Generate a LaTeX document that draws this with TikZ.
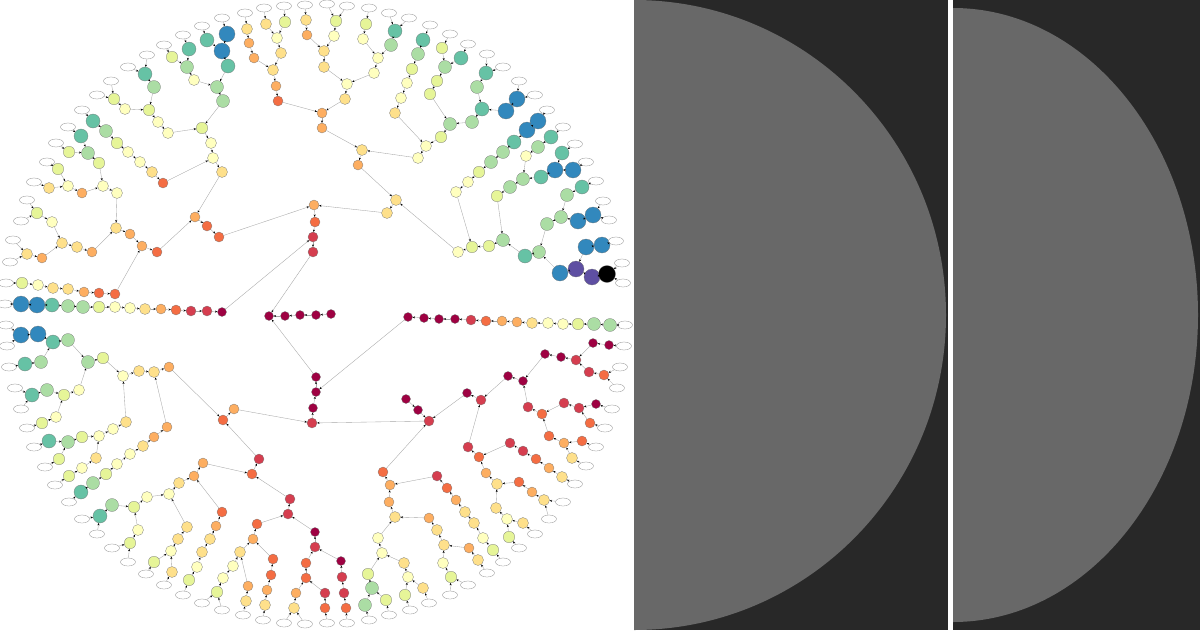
\documentclass[tikz,border=0pt]{standalone}
\usetikzlibrary{arrows.meta,shapes.geometric}
\definecolor{spec1}{HTML}{9E0142}
\definecolor{spec2}{HTML}{D53E4F}
\definecolor{spec3}{HTML}{F46D43}
\definecolor{spec4}{HTML}{FDAE61}
\definecolor{spec5}{HTML}{FEE08B}
\definecolor{spec6}{HTML}{FFFFBF}
\definecolor{spec7}{HTML}{E6F598}
\definecolor{spec8}{HTML}{ABDDA4}
\definecolor{spec9}{HTML}{66C2A5}
\definecolor{spec10}{HTML}{3288BD}
\definecolor{spec11}{HTML}{5E4FA2}
\definecolor{panel}{HTML}{282828}
\definecolor{disc}{HTML}{686868}
\tikzset{
  dot/.style={circle,draw=black!55,line width=0.25pt,inner sep=0pt},
  s1/.style={fill=spec1,minimum size=9pt},
  s2/.style={fill=spec2,minimum size=10pt},
  s3/.style={fill=spec3,minimum size=10pt},
  s4/.style={fill=spec4,minimum size=10pt},
  s5/.style={fill=spec5,minimum size=11pt},
  s6/.style={fill=spec6,minimum size=11pt},
  s7/.style={fill=spec7,minimum size=11.5pt},
  s8/.style={fill=spec8,minimum size=13pt},
  s9/.style={fill=spec9,minimum size=14pt},
  s10/.style={fill=spec10,minimum size=16pt},
  s11/.style={fill=spec11,minimum size=16pt},
  sk/.style={fill=black,minimum size=17pt},
  leafnode/.style={ellipse,draw=black!45,line width=0.3pt,fill=white,minimum width=15pt,minimum height=8pt,inner sep=0pt},
  conn/.style={draw=black!35,line width=0.35pt,-{Stealth[length=2.4pt,width=2pt,color=black]}}
}
\begin{document}
\begin{tikzpicture}[x=1pt,y=-1pt]
\useasboundingbox (0,0) rectangle (1200,630);
\fill[white] (0,0) rectangle (1200,630);
\fill[panel] (634,0) rectangle (948,630);
\fill[panel] (953,0) rectangle (1200,630);
\begin{scope}
\clip (634,0) rectangle (948,630);
\fill[disc] (634,315) ellipse [x radius=312pt,y radius=315pt];
\end{scope}
\begin{scope}
\clip (953,0) rectangle (1200,630);
\fill[disc] (953,315) ellipse [x radius=245pt,y radius=307pt];
\end{scope}

\node[dot,s1] (m1) at (269,316) {};
\foreach \n/\x/\y/\c/\p in {
  m2/285/316/s1/m1, m3/300/315/s1/m2, m4/316/315/s1/m3, m5/331/314/s1/m4,
  m6/313/252/s2/m1, m7/313/237/s2/m6, m8/315/222/s3/m7, m9/314/205/s4/m8,
  m10/316/377/s1/m1, m11/316/392/s1/m10, m12/313/408/s1/m11, m13/312/423/s2/m12,
  p1/222/312/s1/m7, p2/207/311/s2/p1, p3/191/311/s2/p2, p4/176/310/s3/p3,
  p5/161/309/s4/p4, p6/145/309/s5/p5, p7/130/308/s6/p6, p8/115/307/s6/p7,
  p9/99/307/s7/p8, p10/83/307/s8/p9, p11/68/306/s8/p10, p12/52/305/s9/p11,
  p13/37/305/s10/p12, p14/21/304/s10/p13,
  a1/219/237/s3/m9, a2/207/226/s3/a1, a3/195/217/s4/a2, a4/222/172/s5/a3,
  a5/213/158/s6/a4, a6/211/143/s6/a5, a7/202/128/s7/a6, a8/223/101/s8/a7,
  a9/217/87/s8/a8, a10/228/66/s9/a9, a11/222/51/s10/a10, a12/227/34/s10/a11,
  a13/194/80/s6/a9, a14/187/67/s8/a13, a15/189/49/s9/a14, a16/172/57/s7/a14,
  a17/207/40/s9/a11,
  a18/168/133/s6/a7, a19/158/122/s6/a18, a20/149/110/s7/a19, a21/154/87/s8/a20,
  a22/145/74/s9/a21, a23/125/109/s6/a20, a24/114/99/s7/a23,
  a25/157/252/s3/a3, a26/142/246/s4/a25, a27/130/234/s4/a26, a28/116/228/s5/a27,
  a29/117/193/s6/a28, a30/103/186/s6/a29, a31/99/163/s7/a30, a32/88/153/s8/a31,
  a33/81/136/s9/a32, a34/69/152/s7/a32, a35/82/193/s4/a30, a36/68/186/s6/a35,
  a37/58/169/s7/a36, a52/49/188/s5/a36,
  a38/163/183/s3/a5, a39/152/172/s5/a38, a40/140/162/s6/a39, a41/128/152/s6/a40,
  a42/117/143/s7/a41, a43/106/131/s8/a42, a44/93/121/s9/a43,
  a45/92/252/s4/a28, a46/77/247/s5/a45, a47/62/243/s5/a46, a48/52/222/s6/a47,
  a49/37/213/s7/a48, a50/42/258/s4/a47, a51/27/254/s5/a50,
  b1/115/294/s3/a26, b2/99/293/s3/b1, b3/84/292/s4/b2, b4/68/289/s5/b3,
  b5/53/288/s5/b4, b6/38/285/s6/b5, b7/22/283/s7/b6,
  u1/387/213/s5/m9, u2/396/200/s5/u1, u3/358/165/s4/u2, u4/362/150/s5/u3,
  t1/322/128/s4/u4, t2/322/113/s4/t1, t3/278/101/s3/t2, t4/276/86/s4/t3,
  t5/273/70/s5/t4, t6/254/58/s4/t5, t7/249/43/s4/t6, t8/247/29/s5/t7,
  t9/281/53/s5/t5, t10/277/38/s6/t9, t11/285/22/s7/t10, t12/266/24/s5/t10,
  t13/345/99/s5/t2, t14/347/84/s6/t13, t15/324/67/s5/t14, t16/324/51/s5/t15,
  t17/334/36/s6/t16, t18/336/21/s7/t17, t19/307/35/s4/t16, t20/306/20/s5/t19,
  t21/374/73/s6/t14, t22/378/58/s6/t21, t23/363/39/s6/t22, t24/366/24/s7/t23,
  t25/391/45/s8/t22, t26/395/31/s9/t25,
  t27/418/158/s6/u4, t28/426/146/s6/t27, t29/441/137/s7/t28,
  t30/395/113/s5/t28, t31/401/98/s6/t30, t32/407/83/s6/t31, t33/412/69/s7/t32,
  t34/418/54/s8/t33, t35/423/40/s9/t34,
  t36/450/124/s8/t29, t37/430/94/s7/t36, t38/437/81/s7/t37, t39/445/67/s8/t38,
  t40/442/48/s7/t39, t41/461/58/s9/t39,
  t42/472/122/s8/t36, t43/482/109/s9/t42, t44/477/87/s8/t43, t45/486/73/s9/t44,
  t46/506/111/s10/t43, t47/517/99/s10/t46,
  v1/458/252/s6/u2, v2/472/247/s7/v1, v3/456/192/s6/v2, v4/468/182/s6/v3,
  v5/479/172/s7/v4, v6/491/162/s8/v5, v7/503/152/s8/v6, v8/514/142/s9/v7,
  v9/527/130/s10/v8, v10/538/121/s10/v9,
  v11/489/246/s7/v2, v12/503/240/s8/v11, v13/497/196/s7/v12, v14/510/187/s8/v13,
  v15/523/179/s8/v14, v16/526/156/s6/v15, v17/538/147/s8/v16, v18/551/137/s9/v17,
  v19/541/177/s9/v15, v20/555/170/s10/v19, v21/573/170/s10/v20, v22/562/153/s9/v20,
  v23/525/256/s9/v12, v24/539/252/s8/v23, v25/547/224/s8/v24, v26/561/217/s8/v25,
  v27/567/195/s8/v26, v28/582/187/s9/v27, v29/578/221/s10/v26, v30/593/215/s10/v29,
  v31/560/273/s10/v24, v32/576/269/s11/v31, v33/586/247/s10/v32, v34/602/245/s10/v33,
  v35/592/277/s11/v32, v36/607/274/sk/v35,
  w1/408/317/s1/m11, w2/424/318/s1/w1, w3/439/319/s1/w2, w4/455/319/s1/w3,
  w5/471/320/s2/w4, w6/486/321/s3/w5, w7/502/321/s4/w6, w8/517/322/s4/w7,
  w9/532/323/s5/w8, w10/548/323/s6/w9, w11/563/324/s6/w10, w12/578/324/s7/w11,
  w13/594/324/s8/w12, w14/610/325/s8/w13,
  x1/429/421/s2/m13, x2/418/410/s1/x1, x3/406/399/s1/x2, x4/467/393/s1/x1,
  x5/481/400/s2/x4, x6/508/376/s1/x5, x7/523/381/s1/x6, x8/545/354/s1/x7,
  x9/561/357/s1/x8, x10/576/360/s2/x9, x11/593/343/s1/x10, x12/609/345/s1/x11,
  x13/589/372/s2/x10, x14/604/375/s3/x13,
  x15/528/407/s2/x7, x16/542/414/s3/x15, x17/564/403/s2/x16, x18/579/408/s2/x17,
  x19/596/404/s1/x18, x20/590/423/s3/x18, x21/549/436/s3/x16, x22/564/443/s4/x21,
  x23/582/441/s3/x22, x24/572/458/s5/x22,
  x25/468/447/s2/x5, x26/479/457/s3/x25, x27/510/443/s2/x26, x28/523/451/s2/x27,
  x29/536/459/s3/x28, x30/549/468/s4/x29, x31/562/477/s5/x30,
  x32/486/473/s4/x26, x33/497/484/s5/x32, x34/519/482/s3/x33, x35/532/492/s4/x34,
  x36/544/500/s5/x35, x37/496/508/s5/x33, x38/507/519/s6/x37, x39/523/523/s5/x38,
  x40/509/537/s7/x38,
  y1/383/472/s3/x1, y2/390/485/s4/y1, y3/437/476/s2/y2, y4/447/488/s3/y3,
  y5/456/500/s4/y4, y6/465/512/s5/y5, y7/474/523/s5/y6, y8/483/538/s6/y7,
  y9/493/550/s7/y8, y10/389/502/s4/y2, y11/395/517/s5/y10, y12/429/518/s4/y11,
  y13/437/530/s5/y12, y14/444/545/s5/y13, y15/469/548/s4/y14, y16/478/560/s5/y15,
  y17/443/563/s6/y14, y18/451/577/s7/y17,
  y19/378/538/s6/y11, y20/382/553/s6/y19, y21/404/563/s5/y20, y22/408/577/s6/y21,
  y23/423/588/s5/y22, y24/405/595/s7/y22, y25/368/574/s7/y20, y26/372/588/s8/y25,
  y27/365/605/s8/y26, y28/386/600/s7/y26,
  z1/234/409/s4/m13, z2/223/420/s3/z1, z3/259/459/s2/z2, z4/252/474/s3/z3,
  z5/290/499/s2/z4, z6/288/514/s2/z5, z7/315/532/s1/z6, z8/315/547/s2/z7,
  z9/306/563/s3/z8, z10/306/578/s3/z9, z11/296/593/s4/z10, z12/294/608/s5/z11,
  z13/341/561/s1/z8, z14/342/577/s2/z13, z15/344/593/s2/z14, z16/346/608/s3/z15,
  z17/325/593/s2/z10, z18/325/608/s3/z17,
  z19/257/524/s3/z6, z20/253/539/s4/z19, z21/240/552/s5/z20, z22/233/566/s6/z21,
  z23/223/578/s6/z22, z24/217/592/s7/z23, z25/248/586/s4/z21, z26/246/601/s5/z25,
  z27/273/559/s3/z20, z28/271/575/s3/z27, z29/267/590/s4/z28, z30/265/605/s5/z29,
  z31/203/463/s4/z4, z32/194/476/s4/z31, z33/179/483/s5/z32, z34/169/494/s6/z33,
  z35/147/497/s6/z34, z36/134/507/s7/z35, z37/112/505/s8/z36, z38/100/516/s9/z37,
  z39/138/530/s6/z36, z40/130/543/s7/z39,
  z41/187/527/s5/z34, z42/178/539/s5/z41, z43/171/551/s6/z42, z44/154/562/s7/z43,
  z45/172/572/s5/z43,
  z46/222/512/s3/z32, z47/216/526/s4/z46, z48/210/539/s5/z47, z49/202/552/s5/z48,
  z50/197/567/s6/z49, z51/189/580/s7/z50,
  k1/169/367/s4/z2, k2/154/372/s5/k1, k3/139/371/s5/k2, k4/123/376/s6/k3,
  k5/103/358/s7/k4, k6/88/362/s8/k5, k7/68/340/s8/k6, k8/53/342/s9/k7,
  k9/38/334/s10/k8, k10/21/335/s10/k9, k11/41/362/s8/k8, k12/25/364/s9/k11,
  k13/79/390/s6/k6, k14/64/395/s7/k13, k15/47/390/s8/k14, k16/32/395/s9/k15,
  k17/56/417/s6/k14, k18/42/423/s7/k17,
  k19/126/422/s5/k4, k20/113/429/s6/k19, k21/99/436/s6/k20, k22/82/437/s7/k21,
  k23/68/442/s8/k22, k24/49/441/s9/k23, k25/59/459/s7/k23,
  k26/96/458/s5/k21, k27/82/468/s6/k26, k28/69/476/s7/k27,
  k29/167/427/s4/k2, k30/154/437/s4/k29, k31/143/446/s5/k30, k32/130/454/s6/k31,
  k33/117/464/s6/k32, k34/106/474/s7/k33, k35/93/483/s8/k34, k36/81/492/s9/k35}{
  \node[dot,\c] (\n) at (\x,\y) {};
  \draw[conn] (\n) -- (\p);
}

\foreach \x/\y/\p [count=\k] in {
  5/304/p14, 222/18/a12, 202/26/a17, 183/35/a15, 164/45/a16, 147/55/a22,
  128/67/a22, 111/81/a24, 97/95/a24, 82/110/a44, 68/127/a33, 56/143/a34,
  47/162/a37, 34/182/a52, 27/200/a49, 21/221/a49, 13/240/a51, 10/262/a51,
  6/283/b7, 245/13/t8, 264/8/t12, 284/6/t11, 305/5/t20, 327/4/t18,
  347/6/t18, 369/8/t24, 389/13/t26, 409/18/t26, 430/25/t35, 450/34/t40,
  468/44/t41, 487/54/t45, 503/67/t45, 519/81/t47, 535/95/t47, 547/110/v10,
  563/127/v18, 575/144/v22, 586/162/v21, 596/181/v28, 603/201/v30, 609/220/v30,
  616/241/v34, 622/263/v36, 623/283/v36, 625/325/w14, 624/346/x12, 620/367/x14,
  617/388/x14, 612/409/x19, 605/428/x20, 596/447/x23, 586/466/x24, 575/484/x31,
  563/502/x36, 549/519/x36, 535/534/x39, 519/548/x40, 503/562/y9, 487/573/y16,
  468/585/y18, 450/595/y18, 429/603/y23, 410/610/y24, 389/615/y28, 369/620/y27,
  347/623/z16, 327/623/z18, 305/624/z12, 284/623/z12, 263/620/z30, 243/615/z26,
  222/610/z24, 202/603/z24, 183/595/z51, 164/585/z45, 146/574/z44, 128/562/z40,
  112/548/z40, 97/534/z38, 82/519/z38, 69/502/k36, 55/485/k28, 45/467/k25,
  34/447/k24, 27/428/k18, 21/409/k16, 15/388/k16, 9/367/k12, 7/346/k10,
  6/325/k10}{
  \node[leafnode] (lf\k) at (\x,\y) {};
  \draw[conn] (lf\k) -- (\p);
}
\end{tikzpicture}
\end{document}
